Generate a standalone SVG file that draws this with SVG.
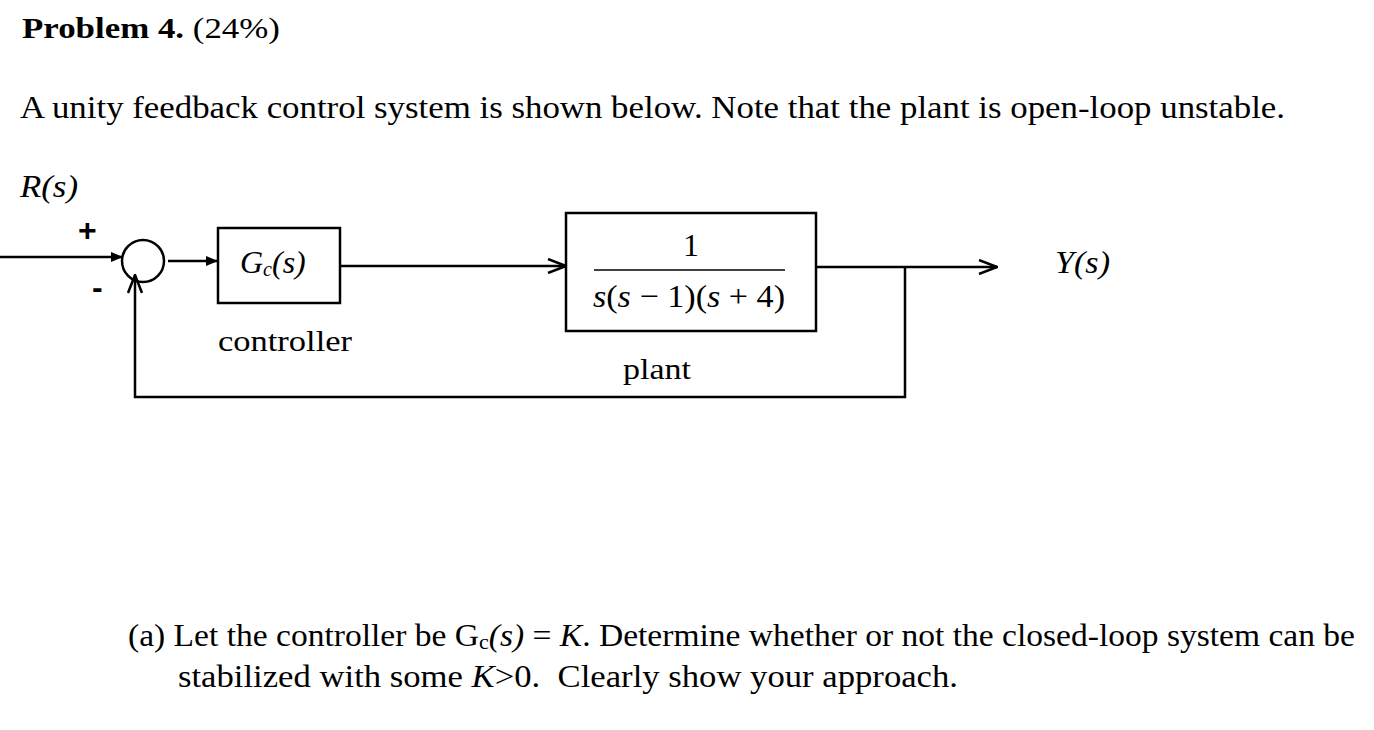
<svg xmlns="http://www.w3.org/2000/svg" width="1374" height="730" viewBox="0 0 1374 730">
<style>
text{font-family:"Liberation Serif",serif;fill:#000}
.t{font-size:32px}
.i{font-style:italic}
.s{font-family:"Liberation Sans",sans-serif;font-weight:bold;font-size:32px}
.l{stroke:#000;stroke-width:2.5;fill:none}
</style>
<defs>
<marker id="f" viewBox="0 0 12 10" refX="12" refY="5" markerWidth="12" markerHeight="10" markerUnits="userSpaceOnUse" orient="auto"><path d="M0,0L12,5L0,10z" fill="#000"/></marker>
<marker id="o" viewBox="0 0 20 16" refX="19" refY="8" markerWidth="20" markerHeight="16" markerUnits="userSpaceOnUse" orient="auto"><path d="M1,1L19,8L1,15" fill="none" stroke="#000" stroke-width="2.5"/></marker>
</defs>
<rect width="1374" height="730" fill="#fff"/>
<text x="22" y="38" font-size="30" textLength="258" lengthAdjust="spacingAndGlyphs"><tspan font-weight="bold">Problem 4.</tspan> (24%)</text>
<text x="20" y="118" class="t" textLength="1265" lengthAdjust="spacingAndGlyphs">A unity feedback control system is shown below. Note that the plant is open-loop unstable.</text>
<text x="20" y="197" class="t i" textLength="58" lengthAdjust="spacingAndGlyphs">R(s)</text>
<text x="78" y="241" class="s">+</text>
<text x="92" y="298" class="s">-</text>
<g id="sum"><circle cx="143" cy="261" r="21" class="l"/></g>
<g id="controller"><rect x="218" y="228" width="122" height="75" class="l"/>
<text x="240" y="273" class="t i">G<tspan font-size="20" dy="3">c</tspan><tspan dy="-3">(s)</tspan></text>
<text x="218" y="351" font-size="30" textLength="134" lengthAdjust="spacingAndGlyphs">controller</text></g>
<g id="plant"><rect x="566" y="213" width="250" height="118" class="l"/>
<text x="691" y="256" class="t" text-anchor="middle">1</text>
<line x1="594" y1="270" x2="785" y2="270" stroke="#000" stroke-width="1.5"/>
<text x="593" y="307" class="t" textLength="192" lengthAdjust="spacingAndGlyphs"><tspan class="i">s</tspan>(<tspan class="i">s</tspan> − 1)(<tspan class="i">s</tspan> + 4)</text>
<text x="623" y="379" font-size="30" textLength="68" lengthAdjust="spacingAndGlyphs">plant</text></g>
<text x="1055" y="273" class="t i" textLength="55" lengthAdjust="spacingAndGlyphs">Y(s)</text>
<g id="connectors">
<line x1="0" y1="257" x2="123" y2="257" class="l" marker-end="url(#f)"/>
<line x1="168" y1="261" x2="218" y2="261" class="l" marker-end="url(#f)"/>
<line x1="340" y1="266" x2="566" y2="266" class="l" marker-end="url(#o)"/>
<line x1="816" y1="267" x2="997" y2="267" class="l" marker-end="url(#o)"/>
<polyline points="905,267 905,397 135,397 135,275" class="l" marker-end="url(#o)"/>
</g>
<text x="128" y="646" class="t" textLength="1227" lengthAdjust="spacingAndGlyphs">(a) Let the controller be G<tspan font-size="21" dy="3">c</tspan><tspan dy="-3" class="i">(s)</tspan> = <tspan class="i">K</tspan>. Determine whether or not the closed-loop system can be</text>
<text x="178" y="687" class="t" textLength="780" lengthAdjust="spacingAndGlyphs" xml:space="preserve">stabilized with some <tspan class="i">K</tspan>&gt;0.  Clearly show your approach.</text>
</svg>
